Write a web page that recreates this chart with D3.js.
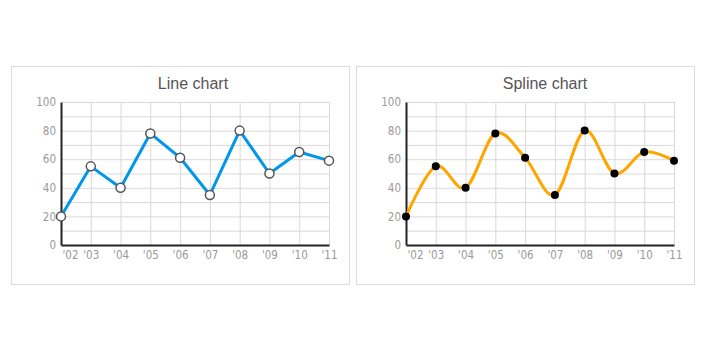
<!DOCTYPE html>
<html>
<head>
<meta charset="utf-8">
<script src="https://cdn.jsdelivr.net/npm/d3@7"></script>
<style>
  body { margin: 0; background: #fff; }
  svg { display: block; }
</style>
</head>
<body>
<svg width="710" height="355"></svg>
<script>
// Chart data
const years = ["'02", "'03", "'04", "'05", "'06", "'07", "'08", "'09", "'10", "'11"];
const lineValues = [20, 55, 40, 78, 61, 35, 80, 50, 65, 59];
const splineValues = [20, 55, 40, 78, 61, 35, 80, 50, 65, 59];
const yTicks = [0, 20, 40, 60, 80, 100];
const yGrid = [0, 10, 20, 30, 40, 50, 60, 70, 80, 90, 100];

const svg = d3.select("svg");

// Panel layout
const panels = [
  { left: 11, title: "Line chart", titleX: 182, values: lineValues, color: "#0096ec", curve: d3.curveLinear, spline: false },
  { left: 356, title: "Spline chart", titleX: 189, values: splineValues, color: "#ffa500", curve: d3.curveCardinal.tension(0), spline: true },
];
const panelW = 339;
const panelH = 219;
const panelTop = 66;

const drawPanel = (p) => {
  const g = svg.append("g").attr("transform", "translate(" + p.left + "," + panelTop + ")");

  g.append("rect")
    .attr("x", 0.5).attr("y", 0.5)
    .attr("width", panelW - 1).attr("height", panelH - 1)
    .attr("fill", "#fff").attr("stroke", "#dcdcdc");

  g.append("text")
    .attr("x", p.titleX).attr("y", 23)
    .attr("text-anchor", "middle")
    .attr("font-family", "Liberation Sans, Arial, sans-serif")
    .attr("font-size", 16)
    .attr("fill", "#555")
    .text(p.title);

  const x0 = 50, x1 = 318, yTop = 36, yBot = 179;

  const xScale = d3.scalePoint().domain(years).range([x0, x1]);
  const yScale = d3.scaleLinear().domain([0, 100]).range([yBot, yTop]);

  // gridlines
  g.append("g")
    .attr("transform", "translate(" + x0 + ",0)")
    .call(d3.axisLeft(yScale).tickValues(yGrid).tickSize(-(x1 - x0)).tickFormat(""))
    .call((s) => s.select(".domain").remove())
    .call((s) => s.selectAll("line").attr("stroke", "#d9d9d9"));

  g.append("g")
    .attr("transform", "translate(0," + yBot + ")")
    .call(d3.axisBottom(xScale).tickSize(-(yBot - yTop)).tickFormat(""))
    .call((s) => s.select(".domain").remove())
    .call((s) => s.selectAll("line").attr("stroke", "#d9d9d9"));

  // axes
  const yAxis = g.append("g")
    .attr("transform", "translate(" + x0 + ",0)")
    .call(d3.axisLeft(yScale).tickValues(yTicks).tickSize(0).tickPadding(5));
  yAxis.select(".domain").attr("stroke", "#222").attr("stroke-width", 2);

  const xAxis = g.append("g")
    .attr("transform", "translate(0," + yBot + ")")
    .call(d3.axisBottom(xScale).tickSize(0).tickPadding(6));
  xAxis.select(".domain").attr("stroke", "#222").attr("stroke-width", 2);
  xAxis.selectAll(".tick text")
    .filter((d, i) => i === 0)
    .attr("text-anchor", "start")
    .attr("dx", 1);

  g.selectAll(".tick text")
    .attr("font-family", "DejaVu Sans Condensed, DejaVu Sans, sans-serif")
    .attr("font-stretch", "condensed")
    .attr("font-size", 11.5)
    .attr("fill", "#9a9a9a");

  // series
  const line = d3.line()
    .x((d, i) => xScale(years[i]))
    .y((d) => yScale(d))
    .curve(p.curve);

  g.append("path")
    .datum(p.values)
    .attr("d", line)
    .attr("fill", "none")
    .attr("stroke", p.color)
    .attr("stroke-width", 3)
    .attr("stroke-linejoin", "round");

  g.selectAll(".marker")
    .data(p.values)
    .enter()
    .append("circle")
    .attr("class", "marker")
    .attr("cx", (d, i) => xScale(years[i]))
    .attr("cy", (d) => yScale(d))
    .attr("r", p.spline ? 4 : 4.5)
    .attr("fill", p.spline ? "#000" : "#fff")
    .attr("stroke", p.spline ? "none" : "#555")
    .attr("stroke-width", 1.5);
};

panels.forEach(drawPanel);
</script>
</body>
</html>
